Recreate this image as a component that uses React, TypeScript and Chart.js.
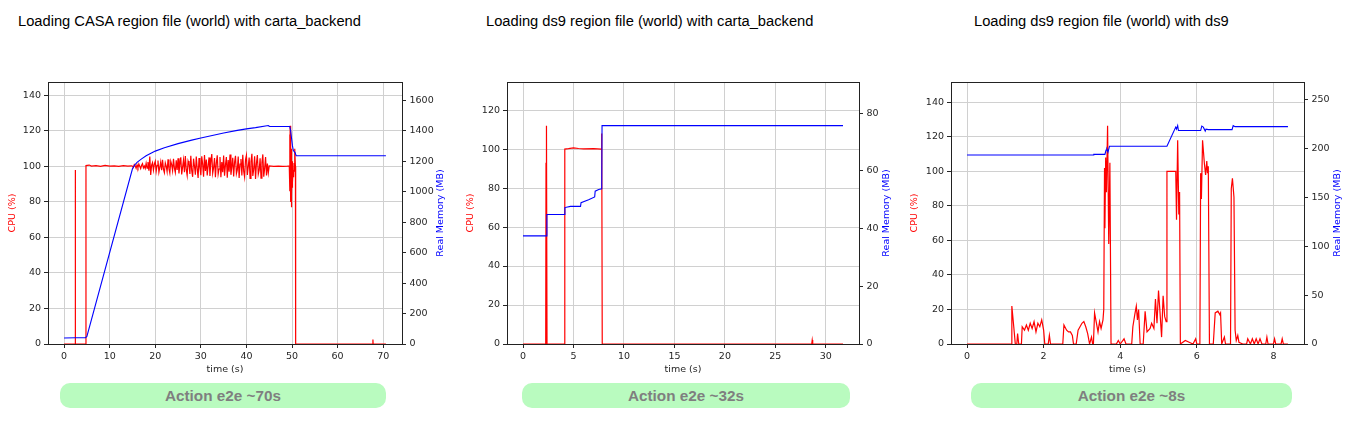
import React, { useEffect, useRef } from "react";
import { Chart, registerables } from "chart.js";
Chart.register(...registerables);

// ---------------- Panel 1: CASA region file with carta_backend ----------------
const cpu1Pre: [number, number][] = [
  [0, 0], [2.4, 0], [2.45, 98], [2.5, 0], [4.75, 0], [4.8, 100.5], [5.5, 100.8], [6, 100.2],
  [7, 100.5], [8, 100.1], [9, 100.6], [10, 100.2], [11, 100.4], [12, 100.1], [13, 100.5], [14, 100.2], [14.8, 100.4],
];
// noisy CPU segment, sampled every 0.2 s from 15 s
const cpu1NoiseStart = 15;
const cpu1NoiseStep = 0.2;
const cpu1Noise: number[] = [
  100.2, 99.5, 101.1, 100.4, 99.0, 100.9, 99.3, 101.4, 100.1, 98.8, 100.7, 101.6, 99.2, 100.3, 98.9,
  101.8, 99.1, 102.5, 97.6, 105.6, 95.2, 100.8, 102.2, 98.0, 101.3,
  102.9, 97.3, 100.6, 103.4, 96.8, 99.5, 102.6, 97.9, 103.8, 98.4, 96.5, 102.1, 100.2, 97.1, 104.0, 98.8, 96.3, 102.9, 101.0, 97.6, 104.3, 99.1, 96.6, 103.5, 98.0,
  104.6, 96.1, 101.3, 105.2, 95.5, 99.8, 103.7, 96.8, 105.9, 98.2, 94.9, 103.1, 101.5, 95.8, 106.1, 97.7, 94.2, 104.4, 100.3, 95.4, 105.6, 98.9, 93.6, 104.8, 99.4,
  95.1, 105.7, 101.2, 94.3, 106.5, 97.5, 103.9, 95.0, 100.6, 105.1, 94.6, 102.8, 107.0, 96.2, 99.3, 104.7, 94.0, 101.9, 106.3, 95.7, 98.6, 105.4, 93.9, 102.5, 96.8,
  106.2, 94.8, 100.9, 105.3, 93.7, 103.6, 97.1, 106.8, 95.3, 99.7, 104.9, 94.4, 102.3, 106.0, 95.9, 98.1, 105.6, 93.5, 101.4, 104.2, 95.0, 106.6, 97.3, 94.1, 103.8,
  106.4, 95.2, 99.9, 105.0, 93.3, 102.7, 107.1, 94.7, 98.5, 105.7, 93.0, 101.8, 106.5, 95.6, 97.9, 104.6, 93.4, 102.2, 106.8, 94.3, 99.1, 105.3, 94.9, 101.6, 96.4,
];
const cpu1Post: [number, number][] = [
  [45, 100.3], [46, 100.1], [47, 100.2], [48, 100.1], [49, 100.2], [49.4, 100.3], [49.5, 118], [49.55, 86], [49.6, 123],
  [49.65, 84], [49.7, 115], [49.75, 80], [49.8, 110], [49.85, 77], [49.9, 104], [49.95, 83], [50.0, 99], [50.05, 88],
  [50.1, 103], [50.15, 91], [50.25, 98], [50.35, 94], [50.45, 102], [50.55, 97], [50.65, 110], [50.75, 100], [50.8, 0],
  [60, 0], [67.7, 0], [67.75, 2.5], [67.8, 0], [70.6, 0],
];
const mem1: [number, number][] = [
  [0, 39], [2.5, 41], [4.7, 42], [5.0, 50], [15, 1150],
  [15.5, 1175], [16, 1192], [17, 1215], [18, 1235], [20, 1266], [22, 1288], [25, 1315], [28, 1338], [30, 1352],
  [33, 1372], [35, 1385], [38, 1402], [40, 1412], [42, 1420], [44.5, 1432], [44.8, 1433], [45.1, 1428], [49.5, 1428],
  [49.7, 1400], [49.9, 1350], [50.1, 1300], [50.3, 1270], [50.5, 1262], [50.7, 1255], [50.9, 1236], [70.6, 1236],
];
const xTicks1 = [0, 10, 20, 30, 40, 50, 60, 70];
const cpuTicks1 = [0, 20, 40, 60, 80, 100, 120, 140];
const memTicks1 = [0, 200, 400, 600, 800, 1000, 1200, 1400, 1600];

// ---------------- Panel 2: ds9 region file with carta_backend ----------------
const cpu2: [number, number][] = [
  [0, 0], [2.25, 0], [2.28, 93], [2.31, 0], [2.34, 112], [2.38, 0], [4.1, 0], [4.14, 100], [4.5, 100.2], [5, 100.6],
  [5.5, 100.3], [6, 100.1], [7, 100.2], [7.75, 100], [7.8, 108], [7.85, 0], [28.6, 0], [28.65, 2], [28.7, 0], [31.7, 0],
];
const mem2: [number, number][] = [
  [0, 37.5], [2.35, 37.5], [2.37, 44.9], [4.12, 44.9], [4.15, 47.3], [4.7, 47.7], [5.7, 47.7], [5.75, 49], [6.5, 50],
  [7.1, 51], [7.15, 53], [7.5, 53.6], [7.8, 53.8], [7.83, 75.7], [31.7, 75.7],
];
const xTicks2 = [0, 5, 10, 15, 20, 25, 30];
const cpuTicks2 = [0, 20, 40, 60, 80, 100, 120];
const memTicks2 = [0, 20, 40, 60, 80];

// ---------------- Panel 3: ds9 region file with ds9 ----------------
const cpu3: [number, number][] = [
  [0, 0], [1.15, 0], [1.17, 22], [1.22, 10], [1.26, 0], [1.3, 0], [1.32, 6], [1.35, 0], [1.42, 0], [1.44, 10], [1.5, 8],
  [1.55, 11], [1.6, 8], [1.65, 12], [1.7, 9], [1.75, 13], [1.8, 7], [1.85, 12], [1.9, 10], [1.95, 14], [2.0, 8], [2.03, 0],
  [2.12, 0], [2.15, 5], [2.18, 0], [2.5, 0], [2.53, 11], [2.6, 8], [2.65, 7], [2.7, 7], [2.75, 5], [2.78, 0], [2.85, 0],
  [2.9, 8], [2.95, 10], [3.0, 12], [3.05, 13], [3.1, 10], [3.15, 6], [3.2, 0], [3.25, 4], [3.28, 0], [3.3, 0], [3.33, 18],
  [3.38, 12], [3.42, 7], [3.46, 13], [3.5, 9], [3.55, 14], [3.57, 20], [3.59, 102], [3.6, 67], [3.62, 108], [3.64, 88],
  [3.67, 126.5], [3.7, 58], [3.73, 105], [3.76, 0], [3.9, 0], [3.95, 2], [4.0, 0], [4.1, 3], [4.15, 0], [4.3, 0],
  [4.33, 10], [4.38, 17], [4.42, 22], [4.45, 14], [4.48, 20], [4.52, 0], [4.6, 0], [4.65, 19], [4.7, 7], [4.78, 9],
  [4.82, 12], [4.88, 9], [4.92, 26], [4.96, 12], [5.0, 31], [5.04, 18], [5.08, 4], [5.12, 28], [5.16, 16], [5.2, 13],
  [5.22, 100], [5.3, 100], [5.45, 100], [5.47, 72], [5.5, 118], [5.53, 75], [5.55, 88], [5.57, 0], [5.7, 2], [5.8, 1],
  [5.9, 0], [5.97, 3], [6.0, 0], [6.08, 0], [6.1, 99], [6.12, 84], [6.15, 118], [6.2, 104], [6.23, 98], [6.26, 106],
  [6.28, 99], [6.3, 103], [6.33, 0], [6.43, 0], [6.48, 18], [6.55, 19], [6.6, 17], [6.62, 18], [6.65, 0], [6.72, 4],
  [6.75, 0], [6.88, 0], [6.9, 90], [6.93, 96], [6.97, 85], [7.0, 8], [7.03, 2], [7.07, 5], [7.1, 1], [7.2, 0], [7.3, 0],
  [7.33, 3], [7.4, 0], [7.45, 3], [7.5, 0], [7.55, 3], [7.6, 0], [7.65, 3], [7.7, 0], [7.8, 0], [7.83, 4], [7.86, 0],
  [8.0, 0], [8.03, 3], [8.06, 0], [8.2, 0], [8.23, 3], [8.26, 0], [8.38, 0],
];
const mem3: [number, number][] = [
  [0, 193], [3.3, 193], [3.31, 193.7], [3.6, 193.7], [3.63, 198], [3.65, 199], [3.68, 196], [3.72, 202], [5.22, 202],
  [5.45, 221.5], [5.47, 219.5], [5.5, 223], [5.52, 218], [6.1, 218], [6.13, 222.5], [6.17, 221.5], [6.22, 217.5],
  [6.24, 219.5], [6.3, 219], [6.92, 219], [6.95, 223], [7.0, 222], [8.38, 222],
];
const xTicks3 = [0, 2, 4, 6, 8];
const cpuTicks3 = [0, 20, 40, 60, 80, 100, 120, 140];
const memTicks3 = [0, 50, 100, 150, 200, 250];

const titles = [
  "Loading CASA region file (world) with carta_backend",
  "Loading ds9 region file (world) with carta_backend",
  "Loading ds9 region file (world) with ds9",
];
const actionLabels = ["Action e2e ~70s", "Action e2e ~32s", "Action e2e ~8s"];

// -----------------------------------------------------------------------------
type Pt = { x: number; y: number };
const toPts = (arr: [number, number][]): Pt[] => arr.map(([x, y]) => ({ x, y }));
const cpu1Pts: Pt[] = [
  ...toPts(cpu1Pre),
  ...cpu1Noise.map((y, i) => ({ x: cpu1NoiseStart + i * cpu1NoiseStep, y })),
  ...toPts(cpu1Post),
];

type PanelDef = {
  cpu: Pt[];
  mem: Pt[];
  xTicks: number[];
  cpuTicks: number[];
  memTicks: number[];
  title: string;
  label: string;
  titleX: number;
  canvasLeft: number;
  leftW: number;
  rightW: number;
  leftTitlePad: number;
  rightTitleX: number;
  labelX: number;
  labelW: number;
};

const panels: PanelDef[] = [
  {
    cpu: cpu1Pts, mem: toPts(mem1), xTicks: xTicks1, cpuTicks: cpuTicks1, memTicks: memTicks1,
    title: titles[0], label: actionLabels[0], titleX: 18, canvasLeft: 0, leftW: 48, rightW: 49,
    leftTitlePad: 7, rightTitleX: 440.7, labelX: 60, labelW: 326,
  },
  {
    cpu: toPts(cpu2), mem: toPts(mem2), xTicks: xTicks2, cpuTicks: cpuTicks2, memTicks: memTicks2,
    title: titles[1], label: actionLabels[1], titleX: 486, canvasLeft: 451, leftW: 56, rightW: 43,
    leftTitlePad: 14, rightTitleX: 435.7, labelX: 522, labelW: 328,
  },
  {
    cpu: toPts(cpu3), mem: toPts(mem3), xTicks: xTicks3, cpuTicks: cpuTicks3, memTicks: memTicks3,
    title: titles[2], label: actionLabels[2], titleX: 974, canvasLeft: 902, leftW: 49, rightW: 49,
    leftTitlePad: 7.3, rightTitleX: 435.7, labelX: 971, labelW: 321,
  },
];

const CANVAS_W = 451;
const CANVAS_H = 320;
const CANVAS_TOP = 60;
const TICK_FONT = { family: "'DejaVu Sans', sans-serif", size: 9.5 };
const TICK_COLOR = "#262626";
const GRID_COLOR = "#d0d0d0";

function Panel({ def }: { def: PanelDef }) {
  const ref = useRef<HTMLCanvasElement>(null);
  useEffect(() => {
    const tMax = Math.max(...def.cpu.map((p) => p.x), ...def.mem.map((p) => p.x));
    const cpuMax = Math.max(...def.cpu.map((p) => p.y)) * 1.2;
    const memMax = Math.max(...def.mem.map((p) => p.y)) * 1.2;
    const setTicks = (vals: number[]) => (scale: any) => {
      scale.ticks = vals.map((v) => ({ value: v }));
    };
    const framePlugin = {
      id: "frame",
      afterDatasetsDraw(chart: any) {
        const { ctx, chartArea: a } = chart;
        ctx.save();
        ctx.strokeStyle = "#222";
        ctx.lineWidth = 1;
        ctx.strokeRect(Math.round(a.left) + 0.5, Math.round(a.top) + 0.5, Math.round(a.right - a.left), Math.round(a.bottom - a.top));
        ctx.restore();
      },
      afterDraw(chart: any) {
        const { ctx, chartArea: a } = chart;
        ctx.save();
        ctx.translate(def.rightTitleX, (a.top + a.bottom) / 2);
        ctx.rotate(-Math.PI / 2);
        ctx.font = `${TICK_FONT.size}px ${TICK_FONT.family}`;
        ctx.fillStyle = "#0000ff";
        ctx.textAlign = "center";
        ctx.textBaseline = "middle";
        ctx.fillText("Real Memory (MB)", 0, 0);
        ctx.restore();
      },
    };
    const chart = new Chart(ref.current!, {
      type: "line",
      data: {
        datasets: [
          {
            data: def.mem, yAxisID: "y1", borderColor: "#0000ff", borderWidth: 1.1, pointRadius: 0,
            tension: 0, fill: false,
          },
          {
            data: def.cpu, yAxisID: "y", borderColor: "#ff0000", borderWidth: 1.2, pointRadius: 0,
            tension: 0, fill: false,
          },
        ],
      },
      options: {
        animation: false,
        responsive: false,
        events: [],
        layout: { padding: { top: 22, left: 0, right: 0, bottom: 0 } },
        plugins: { legend: { display: false }, tooltip: { enabled: false } },
        scales: {
          x: {
            type: "linear",
            min: -0.05 * tMax,
            max: 1.05 * tMax,
            afterBuildTicks: setTicks(def.xTicks),
            afterFit: (s: any) => { s.height = 36; },
            grid: { color: GRID_COLOR, tickColor: TICK_COLOR, tickLength: 4, lineWidth: 1 },
            border: { display: false },
            ticks: {
              font: TICK_FONT, color: TICK_COLOR, padding: 3, autoSkip: false, maxRotation: 0,
              callback: (v: any) => String(v),
            },
            title: {
              display: true, text: "time (s)", color: TICK_COLOR, font: TICK_FONT,
              padding: { top: 0, bottom: 4.3 },
            },
          },
          y: {
            type: "linear",
            position: "left",
            min: 0,
            max: cpuMax,
            afterBuildTicks: setTicks(def.cpuTicks),
            afterFit: (s: any) => { s.width = def.leftW; },
            grid: { color: GRID_COLOR, tickColor: TICK_COLOR, tickLength: 4, lineWidth: 1 },
            border: { display: false },
            ticks: { font: TICK_FONT, color: TICK_COLOR, padding: 3, autoSkip: false, callback: (v: any) => String(v) },
            title: {
              display: true, text: "CPU (%)", color: "#ff0000", font: TICK_FONT,
              padding: { top: def.leftTitlePad, bottom: 0 },
            },
          },
          y1: {
            type: "linear",
            position: "right",
            min: 0,
            max: memMax,
            afterBuildTicks: setTicks(def.memTicks),
            afterFit: (s: any) => { s.width = def.rightW; },
            grid: { drawOnChartArea: false, color: GRID_COLOR, tickColor: TICK_COLOR, tickLength: 4 },
            border: { display: false },
            ticks: { font: TICK_FONT, color: TICK_COLOR, padding: 3.5, autoSkip: false, callback: (v: any) => String(v) },
          },
        },
      } as any,
      plugins: [framePlugin],
    });
    return () => chart.destroy();
  }, [def]);

  return (
    <>
      <div
        style={{
          position: "absolute", left: def.titleX, top: 11, lineHeight: "20px", whiteSpace: "nowrap",
          fontFamily: "'Liberation Sans', Arial, Helvetica, sans-serif", fontSize: 14.7, color: "#000",
        }}
      >
        {def.title}
      </div>
      <canvas
        ref={ref}
        width={CANVAS_W}
        height={CANVAS_H}
        style={{ position: "absolute", left: def.canvasLeft, top: CANVAS_TOP, width: CANVAS_W, height: CANVAS_H }}
      />
      <div
        style={{
          position: "absolute", left: def.labelX, top: 383, width: def.labelW, height: 25, lineHeight: "25px",
          borderRadius: 10, background: "#b9fbbf", color: "#7f7f7f", textAlign: "center", fontWeight: "bold",
          fontFamily: "'Liberation Sans', Arial, Helvetica, sans-serif", fontSize: 15.3,
        }}
      >
        {def.label}
      </div>
    </>
  );
}

export default function App() {
  return (
    <div style={{ position: "absolute", left: 0, top: 0, width: 1353, height: 421, background: "#fff", overflow: "hidden" }}>
      {panels.map((p, i) => (
        <Panel key={i} def={p} />
      ))}
    </div>
  );
}
